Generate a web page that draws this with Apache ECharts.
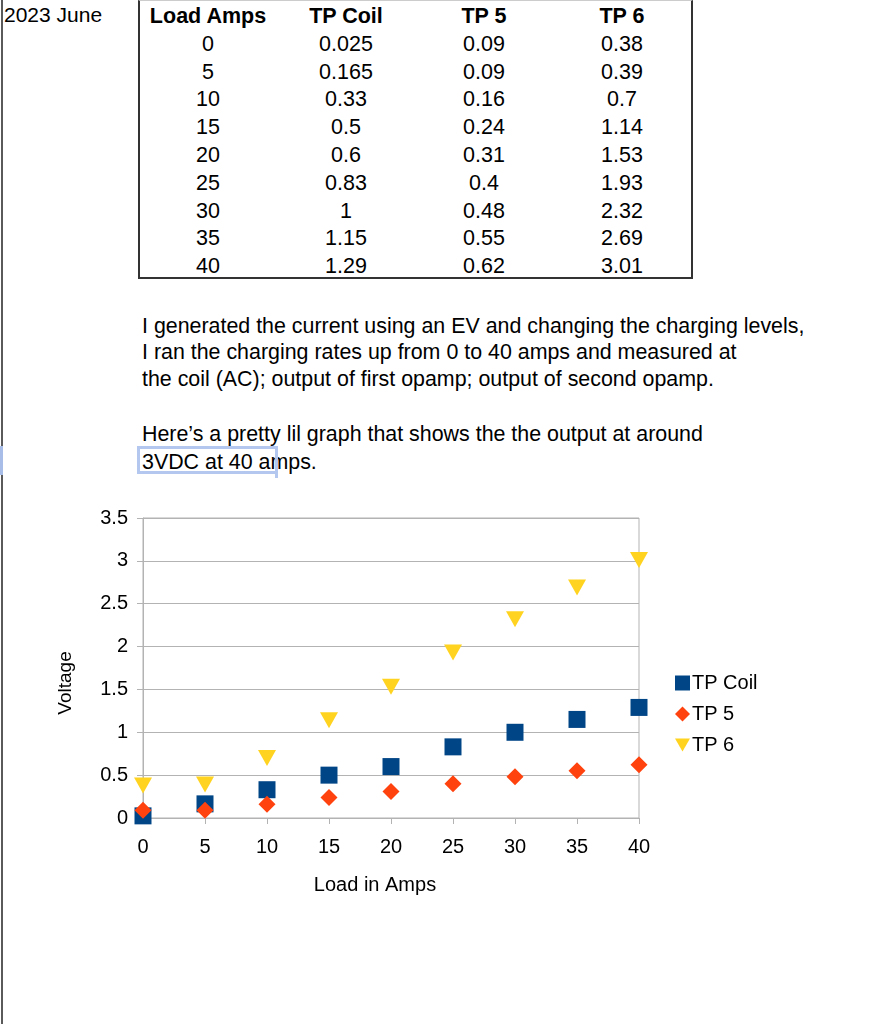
<!DOCTYPE html>
<html><head><meta charset="utf-8">
<script src="https://cdn.jsdelivr.net/npm/echarts@6/dist/echarts.min.js"></script>
<style>
html,body{margin:0;padding:0;background:#fff;width:887px;height:1024px;overflow:hidden;font-family:"Liberation Sans",Arial,sans-serif;color:#000}
.abs{position:absolute;white-space:nowrap}
#doc{position:absolute;left:0;top:0;width:887px;height:1024px}
#chart{position:absolute;left:0;top:490px;width:887px;height:430px}
</style></head>
<body>
<div id="doc"></div>
<div id="chart"></div>
<script>
const loadAmps = [0, 5, 10, 15, 20, 25, 30, 35, 40];
const tpCoil = [0.025, 0.165, 0.33, 0.5, 0.6, 0.83, 1, 1.15, 1.29];
const tp5 = [0.09, 0.09, 0.16, 0.24, 0.31, 0.4, 0.48, 0.55, 0.62];
const tp6 = [0.38, 0.39, 0.7, 1.14, 1.53, 1.93, 2.32, 2.69, 3.01];
const tableHeaders = ['Load Amps', 'TP Coil', 'TP 5', 'TP 6'];
const tableCols = [loadAmps, tpCoil, tp5, tp6];
const seriesNames = ['TP Coil', 'TP 5', 'TP 6'];
const paragraph1 = [
  'I generated the current using an EV and changing the charging levels,',
  'I ran the charging rates up from 0 to 40 amps and measured at',
  'the coil (AC); output of first opamp; output of second opamp.'
];
const paragraph2 = ['Here\u2019s a pretty lil graph that shows the the output at around', '3VDC at 40 amps.'];

const doc = document.getElementById('doc');
function add(html, css){ const d=document.createElement('div'); d.className='abs'; d.innerHTML=html; Object.assign(d.style, css); doc.appendChild(d); return d; }
add('', {left:'1px',top:'0',width:'2px',height:'1024px',background:'#5a5a5a'});
add('', {left:'0px',top:'446px',width:'3px',height:'29px',background:'#a8bde8'});
add('2023 June', {left:'4px',top:'2px',fontSize:'21px',lineHeight:'26px'});
add('', {left:'138px',top:'0px',width:'555px',height:'279px',borderLeft:'2px solid #333',borderRight:'2px solid #333',borderBottom:'2px solid #333',borderTop:'1px solid #ccc',boxSizing:'border-box'});
const colCenters = [208, 346, 484, 622];
const rowY0 = 16, rowStep = 27.8;
tableHeaders.forEach((h,c)=>{
  add(h, {left:(colCenters[c]-80)+'px',width:'160px',textAlign:'center',top:(rowY0-13)+'px',fontSize:'21.5px',lineHeight:'26px',fontWeight:'bold'});
  tableCols[c].forEach((v,r)=>{
    add(String(v), {left:(colCenters[c]-80)+'px',width:'160px',textAlign:'center',top:(rowY0+(r+1)*rowStep-13)+'px',fontSize:'21.5px',lineHeight:'26px'});
  });
});
const p1y=[326,352,379];
paragraph1.forEach((t,i)=>add(t,{left:'142px',top:(p1y[i]-13)+'px',fontSize:'21.4px',lineHeight:'26px'}));
const p2y=[434,462];
paragraph2.forEach((t,i)=>add(t,{left:'142px',top:(p2y[i]-13)+'px',fontSize:'21.4px',lineHeight:'26px'}));
add('', {left:'137px',top:'446px',width:'141px',height:'28px',border:'3px solid #b4c7ee',boxSizing:'border-box'});
add('', {left:'275px',top:'446px',width:'3px',height:'32px',background:'#b4c7ee'});

const tri = 'path://M0,0L2,0L1,1.75Z';
const dia = 'path://M0,-1L1,0L0,1L-1,0Z';
const chart = echarts.init(document.getElementById('chart'), null, {renderer:'canvas'});
const mk = arr => loadAmps.map((x,i)=>[x, arr[i]]);
chart.setOption({
  animation:false,
  textStyle:{fontFamily:'Liberation Sans'},
  grid:{left:143, top:28, width:496, height:300, show:true, borderColor:'#b3b3b3', borderWidth:1},
  xAxis:{type:'value', min:0, max:40, interval:5,
    axisLine:{show:true, lineStyle:{color:'#b3b3b3'}}, axisTick:{show:true, length:6, lineStyle:{color:'#b3b3b3'}},
    splitLine:{show:false}, axisLabel:{fontSize:20, color:'#000', margin:19}},
  yAxis:{type:'value', min:0, max:3.5, interval:0.5,
    axisLine:{show:true, lineStyle:{color:'#b3b3b3'}}, axisTick:{show:true, length:6, lineStyle:{color:'#b3b3b3'}},
    splitLine:{show:true, lineStyle:{color:'#b3b3b3'}}, axisLabel:{fontSize:20, color:'#000', margin:15}},
  graphic:[
    {type:'text', x:375, y:395, style:{text:'Load in Amps', fontSize:20, fill:'#000', fontFamily:'Liberation Sans', align:'center', verticalAlign:'middle'}},
    {type:'text', rotation:Math.PI/2, x:66, y:193, style:{text:'Voltage', fontSize:19, fill:'#000', fontFamily:'Liberation Sans', align:'center', verticalAlign:'middle'}}
  ],
  legend:{orient:'vertical', left:670, top:178, itemGap:11, itemWidth:15, itemHeight:15,
    textStyle:{fontSize:20, color:'#000', padding:[0,0,0,-3]},
    data:[{name:'TP Coil', icon:'rect'},{name:'TP 5', icon:dia},{name:'TP 6', icon:tri}]},
  series:[
    {name:seriesNames[0], type:'scatter', data:mk(tpCoil), symbol:'rect', symbolSize:17, itemStyle:{color:'#004586', opacity:1}},
    {name:seriesNames[1], type:'scatter', data:mk(tp5), symbol:dia, symbolSize:17, itemStyle:{color:'#ff420e', opacity:1}},
    {name:seriesNames[2], type:'scatter', data:mk(tp6), symbol:tri, symbolSize:[18,16], itemStyle:{color:'#ffd320', opacity:1}}
  ]
});
</script>
</body></html>
